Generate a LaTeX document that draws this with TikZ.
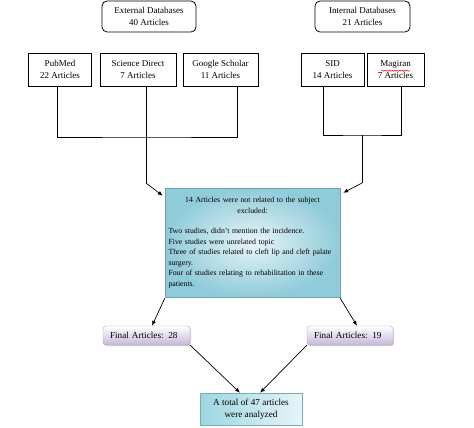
\documentclass[tikz,border=0pt]{standalone}
\usepackage{fontspec}
\setmainfont{Liberation Serif}
\usetikzlibrary{calc, shadows, arrows.meta, decorations.pathmorphing}

\definecolor{notecyan}{HTML}{90CBDA}
\definecolor{notelight}{HTML}{E8F5F8}
\definecolor{finlav}{HTML}{C6B6DC}
\definecolor{totcyan}{HTML}{9CD6E2}
\definecolor{totlight}{HTML}{E6F5F8}

\tikzset{
	dbbox/.style={draw, line width=0.8pt, rounded corners=5pt, minimum width=#1, minimum height=31pt, inner sep=1pt, align=center, font=\fontsize{9}{12}\selectfont},
	srcbox/.style={draw, line width=0.8pt, minimum width=#1, minimum height=33pt, inner sep=1pt, align=center, font=\fontsize{9}{12}\selectfont},
	notebox/.style={draw=notecyan!80!black, line width=0.4pt, inner color=notelight, outer color=notecyan, minimum width=175pt, minimum height=109pt, text width=168pt, inner xsep=3.5pt, align=left, font=\fontsize{7.8}{10.5}\selectfont, drop shadow={shadow xshift=0.8pt, shadow yshift=-1.2pt, opacity=0.35}},
	finbox/.style={draw=gray!70, line width=0.4pt, rounded corners=3pt, top color=white, bottom color=finlav, minimum width=#1, minimum height=19pt, text width=#1-14pt, inner xsep=7pt, align=left, font=\fontsize{9.2}{11}\selectfont, drop shadow={shadow xshift=1.2pt, shadow yshift=-1.2pt, opacity=0.35}},
	totbox/.style={draw=totcyan!80!black, line width=0.4pt, left color=totcyan, right color=totlight, minimum width=102pt, minimum height=32pt, inner sep=1pt, align=center, font=\fontsize{9.2}{12}\selectfont, drop shadow={shadow xshift=1pt, shadow yshift=-1pt, opacity=0.3}},
	link/.style={line width=0.8pt},
	arr/.style={line width=0.7pt, -{Latex[length=5pt, width=4pt]}}
}

\begin{document}
\begin{tikzpicture}[x=1pt, y=-1pt]
	\useasboundingbox (0,0) rectangle (474,428);

	\begin{scope}
		\node[dbbox=94pt] (ext) at (149,16.5) {External Databases\\40 Articles};
		\node[dbbox=95pt] (int) at (362.5,16.5) {Internal Databases\\21 Articles};
	\end{scope}

	\begin{scope}
		\node[srcbox=63pt] (pub) at (60,69.5) {PubMed\\22 Articles};
		\node[srcbox=76pt] (sci) at (138,69.5) {Science Direct\\7 Articles};
		\node[srcbox=75pt] (goo) at (220.5,69.5) {Google Scholar\\11 Articles};
		\node[srcbox=63pt] (sid) at (332.5,69.5) {SID\\14 Articles};
		\node[srcbox=57pt] (mag) at (395.5,69.5) {Magiran\\7 Articles};
		\draw[red, line width=0.5pt, decorate, decoration={snake, amplitude=0.6pt, segment length=2.5pt}] ([shift={(-14pt,-1.2pt)}]mag.center) -- ([shift={(14pt,-1.2pt)}]mag.center);
	\end{scope}

	\begin{scope}
		\node[notebox] (note) at (252.5,242.5) {{\centering 14 Articles were not related to the subject\\excluded:\par}\vspace{10pt}
			Two studies, didn't mention the incidence.\\
			Five studies were unrelated topic\\
			Three of studies related to cleft lip and cleft palate\\
			surgery.\\
			Four of studies relating to rehabilitation in these\\
			patients.};
		\node[finbox=87pt] (fin1) at (146.5,335.5) {Final Articles: 28};
		\node[finbox=86pt] (fin2) at (350,335.5) {Final Articles: 19};
		\node[totbox] (tot) at (251,409) {A total of 47 articles\\were analyzed};
	\end{scope}

	\begin{scope}
		\coordinate (exjoin) at (146,137);
		\coordinate (injoin) at (362,135);
		\coordinate (exbend) at (146,183);
		\coordinate (inbend) at (362,183);
		\draw[link] ([xshift=-3pt]pub.south) |- (exjoin) -| ([xshift=16.5pt]goo.south);
		\draw[link] ([xshift=8pt]sci.south) -- (exbend);
		\draw[link] ([xshift=-9.5pt]sid.south) |- (injoin) -| ([xshift=5.5pt]mag.south);
		\draw[link] (injoin) -- (inbend);
		\draw[arr] (exbend) -- ([shift={(-2pt,-8pt)}]note.north west);
		\draw[arr] (inbend) -- ([shift={(3pt,-5pt)}]note.north east);
	\end{scope}

	\begin{scope}
		\draw[arr] ([yshift=-1pt]note.south west) -- ([xshift=5.5pt]fin1.north);
		\draw[arr] ([yshift=-1pt]note.south east) -- ([xshift=7pt]fin2.north);
		\draw[arr] (fin1.south east) -- ([xshift=-11pt]tot.north);
		\draw[arr] (fin2.south west) -- ([xshift=9pt]tot.north);
	\end{scope}
\end{tikzpicture}
\end{document}
